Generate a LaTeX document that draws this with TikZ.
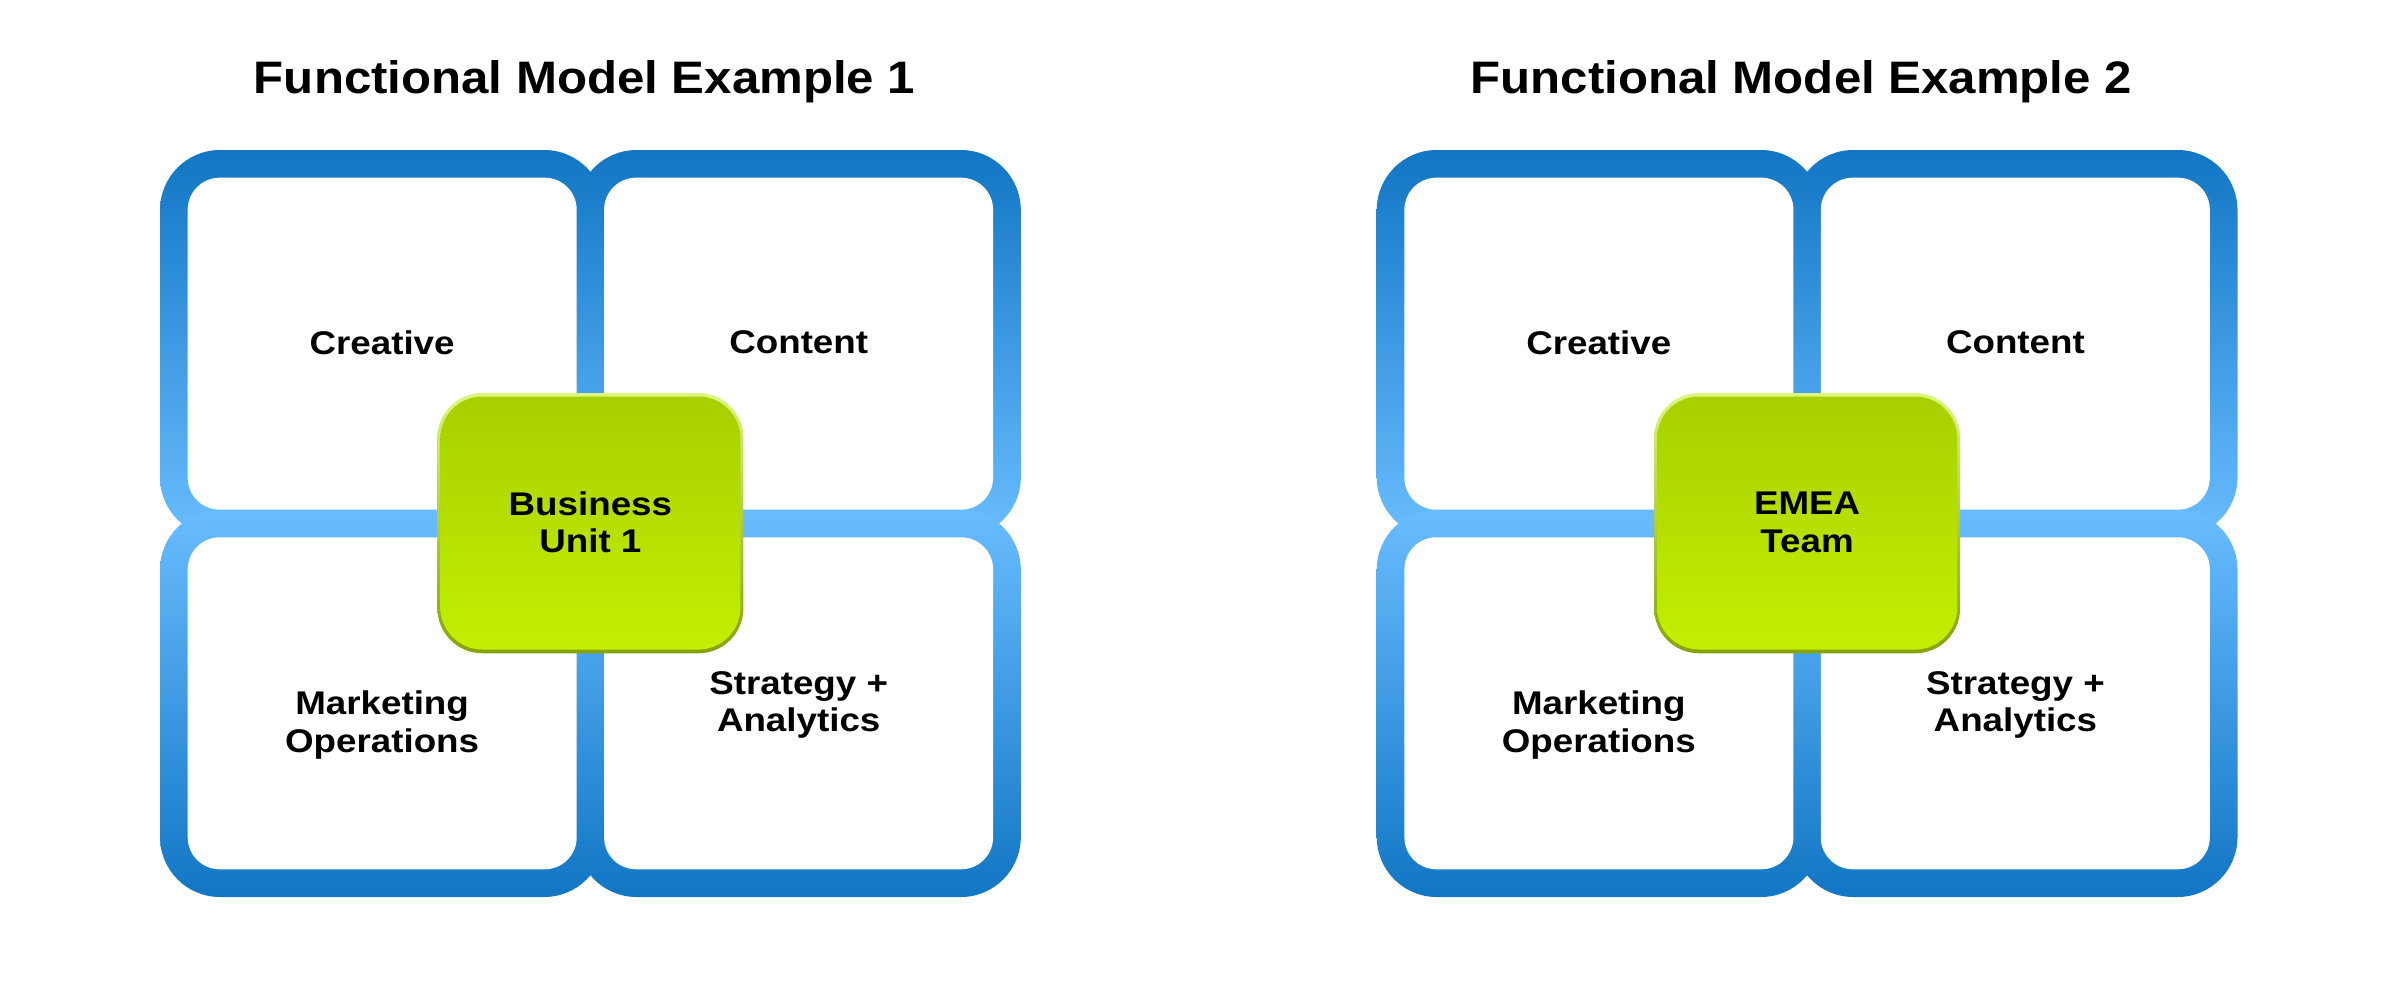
\documentclass[tikz,border=0pt]{standalone}
\usepackage{fontspec}
\newfontfamily\titlefont{Liberation Sans}[FakeStretch=1.08]
\newfontfamily\labelfont{Liberation Sans}[FakeStretch=1.12]
\definecolor{bluedark}{HTML}{1276C4}
\definecolor{bluelight}{HTML}{69BDFF}
\definecolor{greentop}{HTML}{A8CF00}
\definecolor{greenbot}{HTML}{C3EF02}
\definecolor{rimtop}{HTML}{DCF67F}
\definecolor{rimbot}{HTML}{86A204}
\newcommand\fmcluster[3]{% #1 centre x, #2 number, #3 hub text
  \path[framedown] ({#1-430.4},150) rectangle ({#1+13.8},537.3);
  \path[framedown] ({#1-13.8},150) rectangle ({#1+430.4},537.3);
  \path[frameup] ({#1-430.4},509.7) rectangle ({#1+13.8},897);
  \path[frameup] ({#1-13.8},509.7) rectangle ({#1+430.4},897);
  \path[cellfill] ({#1-402.7},177.7) rectangle ({#1-13.7},509.7);
  \path[cellfill] ({#1+13.7},177.7) rectangle ({#1+402.7},509.7);
  \path[cellfill] ({#1-402.7},537.3) rectangle ({#1-13.7},869.3);
  \path[cellfill] ({#1+13.7},537.3) rectangle ({#1+402.7},869.3);
  \path[rim] ({#1-153},393) rectangle ({#1+153},653.3);
  \path[hubfill] ({#1-150},396.5) rectangle ({#1+150},649.5);
  \node[titletext] (title#2) at ({#1-5.8},93.3) {Functional Model Example #2};
  \node[celltext] (creative#2) at ({#1-208.3},342.5) {Creative};
  \node[celltext] (content#2) at ({#1+208.3},342.5) {Content};
  \node[celltext] (mktops#2) at ({#1-208.3},725) {Marketing\\Operations};
  \node[celltext] (strategy#2) at ({#1+208.3},705) {Strategy +\\Analytics};
  \node[celltext] (hub#2) at ({#1},522.5) {#3};
}
\begin{document}
\begin{tikzpicture}[x=0.01cm,y=-0.01cm,
  titletext/.style={font=\titlefont\bfseries\fontsize{12.95pt}{14pt}\selectfont, anchor=base, inner sep=0pt},
  celltext/.style={font=\labelfont\bfseries\fontsize{9.33pt}{10.67pt}\selectfont, align=center, inner sep=0pt},
  framedown/.style={top color=bluedark, bottom color=bluelight, rounded corners=0.6cm},
  frameup/.style={top color=bluelight, bottom color=bluedark, rounded corners=0.6cm},
  cellfill/.style={fill=white, rounded corners=0.32cm},
  rim/.style={top color=rimtop, bottom color=rimbot, rounded corners=0.45cm},
  hubfill/.style={top color=greentop, bottom color=greenbot, rounded corners=0.42cm}]
  \fill[white] (0,0) rectangle (2400,1000);
  \useasboundingbox (0,0) rectangle (2400,1000);
  \fmcluster{590.4}{1}{Business\\Unit 1}
  \fmcluster{1807.1}{2}{EMEA\\Team}
\end{tikzpicture}
\end{document}
